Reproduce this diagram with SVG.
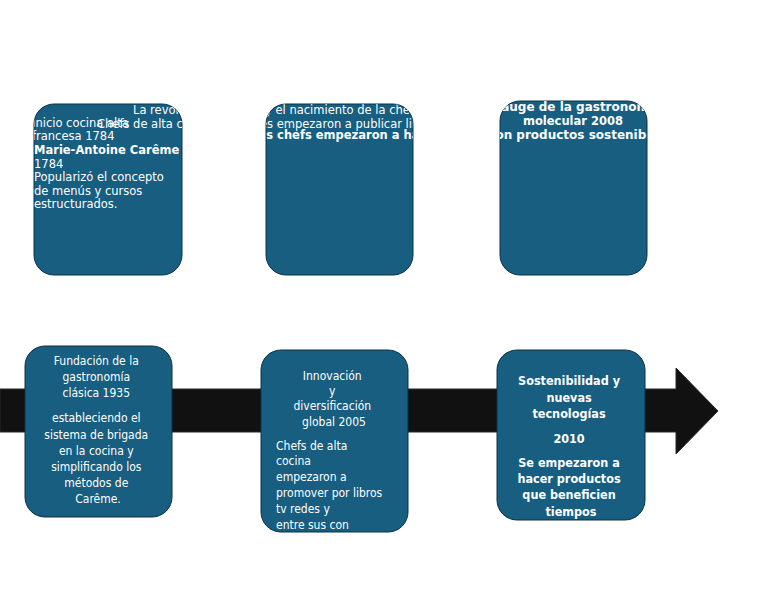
<svg xmlns="http://www.w3.org/2000/svg" width="768" height="594" viewBox="0 0 768 594">
<style>
.box{fill:#175e80;stroke:#0b3246;stroke-width:1}
.t{font-family:"DejaVu Sans","Liberation Sans",sans-serif;font-size:11.5px;fill:#ffffff}
.c{font-family:"DejaVu Sans Condensed","DejaVu Sans","Liberation Sans Narrow",sans-serif;font-stretch:condensed;font-size:12px;fill:#ffffff}
.b{font-weight:bold}
.m{text-anchor:middle}
.top{clip-path:url(#topclip)}
</style>
<defs>
<clipPath id="topclip">
<rect x="34" y="104" width="148" height="171" rx="20"/>
<rect x="266" y="104" width="147" height="171" rx="20"/>
<rect x="500" y="101" width="147" height="174" rx="20"/>
</clipPath>
</defs>
<rect width="768" height="594" fill="#ffffff"/>
<g id="connectors">
<g id="timeline-arrow">
<path d="M0,389 H676 V368 L718,411 L676,454 V432 H0 Z" fill="#111111" stroke="#2a2a2a" stroke-width="1"/>
</g>
</g>
<g id="node-top1">
<rect class="box" x="34" y="104" width="148" height="171" rx="20"/>
<text class="t top" x="32">
<tspan x="32" y="127">Inicio cocina alta</tspan>
<tspan x="32" y="140">francesa 1784</tspan>
<tspan x="34" y="154" class="b">Marie-Antoine Carême</tspan>
<tspan x="34" y="168">1784</tspan>
<tspan x="34" y="181">Popularizó el concepto</tspan>
<tspan x="34" y="195">de menús y cursos</tspan>
<tspan x="34" y="208">estructurados.</tspan>
</text>
</g>
<g id="node-top2">
<rect class="box" x="266" y="104" width="147" height="171" rx="20"/>
<text class="t top"><tspan x="133" y="114">La revolución</tspan><tspan x="265" y="114">y el nacimiento de la chef moderna</tspan></text>
<text class="t top" x="97" y="128">Chefs de alta cocina franceses empezaron a publicar libros</text>
<text class="t b top" x="251" y="139">Los chefs empezaron a hacer platos</text>
</g>
<g id="node-top3">
<rect class="box" x="500" y="101" width="147" height="174" rx="20"/>
<g class="top">
<text class="t b m" x="573" y="111" style="font-size:12px">El auge de la gastronomía</text>
<text class="t b m" x="573" y="125">molecular 2008</text>
<text class="t b m" x="577" y="139" style="font-size:12px">con productos sostenibles</text>
</g>
</g>
<g id="node-bottom1">
<rect class="box" x="25" y="346" width="147" height="171" rx="20"/>
<text class="c m" x="98">
<tspan x="98" y="365">Fundación de la</tspan>
<tspan x="98" y="381">gastronomía</tspan>
<tspan x="98" y="397">clásica 1935</tspan>
<tspan x="98" y="422">estableciendo el</tspan>
<tspan x="98" y="439">sistema de brigada</tspan>
<tspan x="98" y="455">en la cocina y</tspan>
<tspan x="98" y="471">simplificando los</tspan>
<tspan x="98" y="487">métodos de</tspan>
<tspan x="98" y="503">Carême.</tspan>
</text>
</g>
<g id="node-bottom2">
<rect class="box" x="261" y="350" width="147" height="182" rx="20"/>
<text class="c m" x="334">
<tspan x="334" y="380">Innovación</tspan>
<tspan x="334" y="395">y</tspan>
<tspan x="334" y="410">diversificación</tspan>
<tspan x="334" y="426">global 2005</tspan>
</text>
<text class="c" x="276">
<tspan x="276" y="450">Chefs de alta</tspan>
<tspan x="276" y="465">cocina</tspan>
<tspan x="276" y="481">empezaron a</tspan>
<tspan x="276" y="497">promover por libros</tspan>
<tspan x="276" y="513">tv redes y</tspan>
<tspan x="276" y="529">entre sus con</tspan>
</text>
</g>
<g id="node-bottom3">
<rect class="box" x="497" y="350" width="148" height="170" rx="20"/>
<text class="c b m" x="571" style="font-size:12.5px">
<tspan x="571" y="385">Sostenibilidad y</tspan>
<tspan x="571" y="402">nuevas</tspan>
<tspan x="571" y="418">tecnologías</tspan>
<tspan x="571" y="443">2010</tspan>
<tspan x="571" y="467">Se empezaron a</tspan>
<tspan x="571" y="483">hacer productos</tspan>
<tspan x="571" y="499">que beneficien</tspan>
<tspan x="571" y="516">tiempos</tspan>
</text>
</g>
</svg>
